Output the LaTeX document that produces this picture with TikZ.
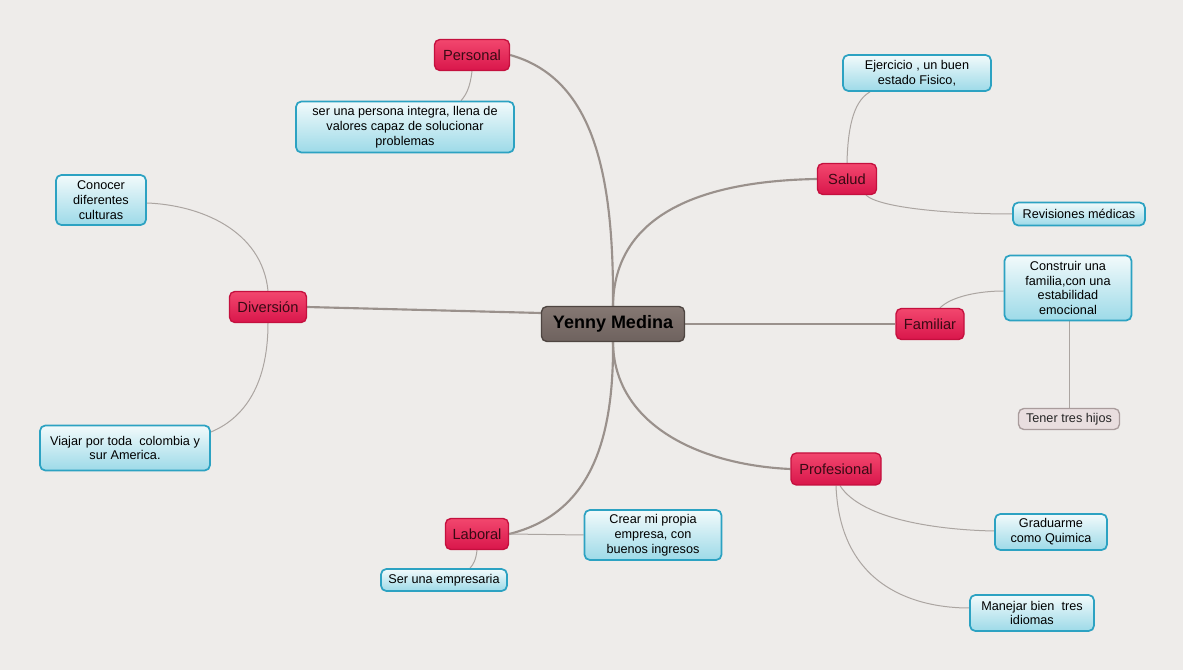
\documentclass[tikz,border=0pt]{standalone}
\usepackage{fontspec}
\setmainfont{Liberation Sans}
\usetikzlibrary{backgrounds}
\definecolor{bg}{HTML}{EEECEA}
\definecolor{redtop}{HTML}{F2476E}
\definecolor{redbot}{HTML}{D9164B}
\definecolor{redline}{HTML}{C4103E}
\definecolor{bluetop}{HTML}{F2FAFB}
\definecolor{bluebot}{HTML}{9DDAE8}
\definecolor{blueline}{HTML}{2CA2C2}
\definecolor{ctop}{HTML}{857873}
\definecolor{cbot}{HTML}{6E625E}
\definecolor{cline}{HTML}{4E4541}
\definecolor{mainline}{HTML}{9A918C}
\definecolor{subline}{HTML}{ABA5A1}
\definecolor{pinkfill}{HTML}{E9DEDF}
\definecolor{pinkline}{HTML}{A99C9C}
\definecolor{redtext}{HTML}{3A0A14}
\begin{document}
\begin{tikzpicture}[x=0.75pt,y=-0.75pt,
  sz/.style 2 args={minimum width=#1*0.75pt, minimum height=#2*0.75pt},
  topic/.style={draw=redline, line width=1pt, rounded corners=4pt, top color=redtop, bottom color=redbot,
    inner sep=0pt, align=center, text=redtext, font=\fontsize{11}{13}\selectfont},
  leaf/.style={draw=blueline, line width=1.3pt, rounded corners=4pt, top color=bluetop, bottom color=bluebot,
    inner sep=0pt, align=center, text=black, font=\fontsize{9.5}{11.2}\selectfont},
  pinkleaf/.style={draw=pinkline, line width=1pt, rounded corners=4pt, fill=pinkfill,
    inner sep=0pt, align=center, text=black!85, font=\fontsize{9.5}{11.2}\selectfont},
  central/.style={draw=cline, line width=1pt, rounded corners=4pt, top color=ctop, bottom color=cbot,
    inner sep=0pt, align=center, text=black, font=\fontsize{13.5}{15}\selectfont\bfseries},
  mainconn/.style={draw=mainline, line width=1.6pt},
  subconn/.style={draw=subline, line width=0.75pt}]
\useasboundingbox (0,0) rectangle (1183,670);

\node[central, sz={143}{35}] (c) at (613,324) {Yenny Medina};
\node[topic, sz={75}{31}] (personal) at (472,55) {Personal};
\node[leaf, sz={218}{51}] (ptext) at (405,127) {ser una persona integra, llena de\\valores capaz de solucionar\\problemas};
\node[topic, sz={59}{31}] (salud) at (847,179) {Salud};
\node[leaf, sz={148}{36}] (ejer) at (917,73) {Ejercicio , un buen\\estado Fisico,};
\node[leaf, sz={132}{23}] (revis) at (1079,214) {Revisiones médicas};
\node[topic, sz={68}{31}] (familiar) at (930,324) {Familiar};
\node[leaf, sz={127}{65}] (constr) at (1068,288) {Construir una\\familia,con una\\estabilidad\\emocional};
\node[pinkleaf, sz={101}{21}] (tener) at (1069,419) {Tener tres hijos};
\node[topic, sz={90}{32}] (profes) at (836,469) {Profesional};
\node[leaf, sz={112}{36}] (grad) at (1051,532) {Graduarme\\como Quimica};
\node[leaf, sz={124}{36}] (manej) at (1032,613) {Manejar bien\ \ tres\\idiomas};
\node[topic, sz={63}{31}] (laboral) at (477,534) {Laboral};
\node[leaf, sz={137}{50}] (crear) at (653,535) {Crear mi propia\\empresa, con\\buenos ingresos};
\node[leaf, sz={126}{22}] (ser) at (444,580) {Ser una empresaria};
\node[topic, sz={77}{31}] (divers) at (268,307) {Diversión};
\node[leaf, sz={90}{50}] (conocer) at (101,200) {Conocer\\diferentes\\culturas};
\node[leaf, sz={170}{45}] (viajar) at (125,448) {Viajar por toda\ \ colombia y\\sur America.};

\begin{scope}[on background layer]
\fill[bg] (0,0) rectangle (1183,670);
% main branches
\path[mainconn] (c.north) .. controls (614,170) and (592,78) .. (personal.east);
\path[mainconn] (c.north) .. controls (614,215) and (700,181) .. (salud.west);
\path[mainconn] (c.east) -- (familiar.west);
\path[mainconn] (c.south) .. controls (614,425) and (700,465) .. (profes.west);
\path[mainconn] (c.south) .. controls (614,450) and (585,515) .. (laboral.east);
\path[mainconn] (divers.east) -- (c.west |- 0,313);
% sub branches
\path[subconn] (personal.south) .. controls (470,88) and (466,95) .. (ptext.north -| 461,0);
\path[subconn] (salud.north) .. controls (848,120) and (856,100) .. (ejer.south west -| 870,0);
\path[subconn] (salud.south -| 866,0) .. controls (880,208) and (950,214) .. (revis.west);
\path[subconn] (familiar.north -| 940,0) .. controls (952,296) and (980,291) .. (constr.west |- 0,291);
\path[subconn] (constr.south -| 1069,0) -- (tener.north -| 1069,0);
\path[subconn] (profes.south -| 840,0) .. controls (862,520) and (940,530) .. (grad.west |- 0,531);
\path[subconn] (profes.south) .. controls (840,590) and (920,608) .. (manej.west |- 0,608);
\path[subconn] (laboral.east) -- (crear.west);
\path[subconn] (laboral.south) .. controls (476,560) and (473,565) .. (ser.north -| 470,0);
\path[subconn] (divers.north) .. controls (262,230) and (200,205) .. (conocer.east |- 0,203);
\path[subconn] (divers.south) .. controls (268,390) and (240,420) .. (viajar.north east |- 0,432);
\end{scope}
\end{tikzpicture}
\end{document}
